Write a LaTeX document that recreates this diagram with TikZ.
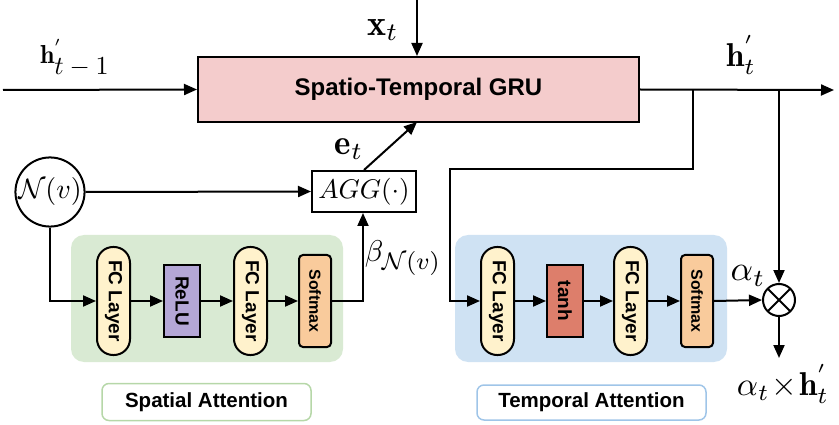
\documentclass[tikz,border=0pt]{standalone}
\usepackage{fontspec}
\usepackage{graphicx}
\usetikzlibrary{arrows.meta, positioning}
\newfontfamily\boxsans{Liberation Sans}
\definecolor{grupink}{HTML}{F4CCCC}
\definecolor{fccream}{HTML}{FFF2CC}
\definecolor{relupurple}{HTML}{B4A7D6}
\definecolor{tanhred}{HTML}{DD7E6B}
\definecolor{softorange}{HTML}{F9CB9C}
\definecolor{spatialgreen}{HTML}{D9EAD3}
\definecolor{spatialedge}{HTML}{B6D7A8}
\definecolor{temporalblue}{HTML}{CFE2F3}
\definecolor{temporaledge}{HTML}{9FC5E8}
\newcommand{\vlabel}[1]{\rotatebox{-90}{#1}}
\newcommand{\fsz}[1]{\fontsize{#1}{#1}\selectfont}

\begin{document}
\begin{tikzpicture}[
  x=1pt, y=-1pt, line width=2pt,
  node distance=31pt,
  arrow/.style={-{Triangle[length=13pt, width=11pt]}},
  sans/.style={font=\boxsans\bfseries\fsz{#1}},
  gru/.style={draw, fill=grupink, minimum width=441pt, minimum height=65pt,
              sans=24},
  fc/.style={draw, fill=fccream, rounded corners=16pt, minimum width=33pt,
             minimum height=108pt, inner sep=0pt, sans=19},
  act/.style={draw, minimum width=36pt, minimum height=72pt, inner sep=0pt,
              sans=19},
  soft/.style={draw, fill=softorange, rounded corners=4pt, minimum width=32pt,
               minimum height=92pt, inner sep=0pt, sans=16},
  panel/.style={fill=#1, rounded corners=13pt, minimum width=272pt,
                minimum height=127pt},
  tag/.style={draw=#1, line width=1.5pt, rounded corners=7pt, minimum width=209pt,
              minimum height=37pt, sans=20.5},
  aggbox/.style={draw, minimum width=104pt, minimum height=41pt, inner sep=0pt,
                 font=\fsz{10}},
  nbhd/.style={draw, circle, minimum size=59pt, inner sep=0pt, font=\fsz{10}},
  otimes/.style={draw, circle, minimum size=32pt, inner sep=0pt,
    path picture={\draw (path picture bounding box.north west) -- (path picture bounding box.south east)
                        (path picture bounding box.north east) -- (path picture bounding box.south west);}},
  math/.style={inner sep=0pt, font=\fsz{10}, scale=#1},
]
\useasboundingbox (0,0) rectangle (839,425);

\node[gru] (gru) at (418.5,89.5) {Spatio-Temporal GRU};
\node[aggbox] (agg) at (364,191.5) {\scalebox{2.7}{$AGG(\cdot)$}};
\node[nbhd] (ncirc) at (50,192) {\scalebox{2.8}{$\mathcal{N}(v)$}};

\node[panel=spatialgreen] (spanel) at (207,298.5) {};
\node[fc] (fc1s) at (113.5,301) {\vlabel{FC Layer}};
\node[act, fill=relupurple, right=32pt of fc1s] (relu) {\vlabel{ReLU}};
\node[fc, right=32pt of relu] (fc2s) {\vlabel{FC Layer}};
\node[soft, right=30pt of fc2s] (softS) {\vlabel{Softmax}};
\node[tag=spatialedge] (stag) at (206.5,402) {Spatial Attention};

\node[panel=temporalblue] (tpanel) at (591,298.5) {};
\node[fc] (fc1t) at (497.5,301) {\vlabel{FC Layer}};
\node[act, fill=tanhred, right=of fc1t] (tanh) {\vlabel{tanh}};
\node[fc, right=29pt of tanh] (fc2t) {\vlabel{FC Layer}};
\node[soft, right=32pt of fc2t] (softT) {\vlabel{Softmax}};
\node[tag=temporaledge, minimum width=229pt, minimum height=35pt] (ttag) at (591.5,402.5) {Temporal Attention};

\node[otimes] (mult) at (779,300) {};

\coordinate (hin) at (3,90);
\coordinate (hout) at (834,90);
\coordinate (xin) at (417,0);
\coordinate (tapA) at (693,90);
\coordinate (tapB) at (779,90);
\coordinate (turn) at (450,169);
\coordinate (betaup) at (363,301);
\coordinate (res) at (779,358);

\draw[arrow] (hin) -- (gru.west);
\draw[arrow] (xin) -- (xin |- gru.north);
\draw[arrow] (gru.east) -- (hout);
\draw[arrow] (agg.north) -- (417,122);
\draw[arrow] (ncirc.east) -- (agg.west);
\draw[arrow] (ncirc.south) |- (fc1s.west);
\draw[arrow] (fc1s) -- (relu);
\draw[arrow] (relu) -- (fc2s);
\draw[arrow] (fc2s) -- (softS);
\draw[arrow] (softS.east) -- (betaup) -- (betaup |- agg.south);
\draw[arrow] (tapA) |- (turn) |- (fc1t.west);
\draw[arrow] (fc1t) -- (tanh);
\draw[arrow] (tanh) -- (fc2t);
\draw[arrow] (fc2t) -- (softT);
\draw[arrow] (softT.east) -- (mult.west);
\draw[arrow] (tapB) -- (mult.north);
\draw[arrow] (mult.south) -- (res);

\node[math=2.6] (hprev) at (75,58) {$\mathbf{h}^{'}_{\hbox{\fsz{10}$t-1$}}$};
\node[math=3.6] (xt) at (383,30) {$\mathbf{x}_t$};
\node[math=3.5] (et) at (349,149) {$\mathbf{e}_t$};
\node[math=3.3] (hcur) at (741,55) {$\mathbf{h}^{'}_t$};
\node[math=3.0] (beta) at (403,258) {$\beta_{\hbox{\fsz{8}$\mathcal{N}(v)$}}$};
\node[math=3.5] (alpha) at (748,276) {$\alpha_t$};
\node[math=3.3] (weighted) at (783,384) {$\alpha_t\!\times\!\mathbf{h}^{'}_t$};
\end{tikzpicture}
\end{document}
